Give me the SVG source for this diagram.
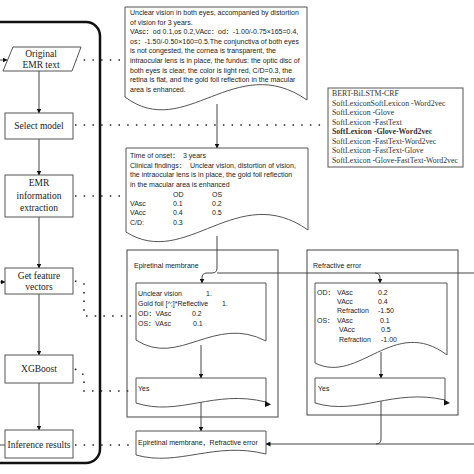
<svg xmlns="http://www.w3.org/2000/svg" width="474" height="474" viewBox="0 0 474 474">
<defs>
<marker id="ah" viewBox="0 0 10 10" refX="9" refY="5" markerWidth="5" markerHeight="5" orient="auto" markerUnits="userSpaceOnUse"><path d="M0,0 L10,5 L0,10 Z" fill="#111"/></marker>
<style>
.frame{fill:none;stroke:#444;stroke-width:1}
.box{fill:#fff;stroke:#555;stroke-width:1}
.doc{fill:#fff;stroke:#555;stroke-width:1}
.ln{fill:none;stroke:#444;stroke-width:1}
.dot{fill:none;stroke:#222;stroke-width:1.6;stroke-dasharray:1.5 7.2}
.tm{font-family:"Liberation Serif","Times New Roman",serif;font-size:9.5px;fill:#222}
.lx{font-family:"Liberation Serif","Times New Roman",serif;font-size:7.8px;fill:#333}
.sf{font-family:"Liberation Sans",Arial,"Noto Sans CJK SC",sans-serif;font-size:7px;fill:#222}
</style>
</defs>
<rect width="474" height="474" fill="#fff"/>

<!-- outer rounded frame -->
<rect x="-30" y="22" width="130" height="441" rx="14" fill="none" stroke="#111" stroke-width="2.5"/>

<g id="connectors">
<path class="ln" d="M39,71 V113" marker-end="url(#ah)"/>
<path class="ln" d="M39,139 V175" marker-end="url(#ah)"/>
<path class="ln" d="M39,217 V268" marker-end="url(#ah)"/>
<path class="ln" d="M39,294 V355" marker-end="url(#ah)"/>
<path class="ln" d="M39,383 V430" marker-end="url(#ah)"/>
<path class="ln" d="M0,60 H7" marker-end="url(#ah)"/>
<path class="ln" d="M0,282 H5" marker-end="url(#ah)"/>
<path class="ln" d="M0,445 H5"/>
<path class="ln" d="M217,104 V148" marker-end="url(#ah)"/>
<path class="ln" d="M217,236 V268 Q217,273 212,273 H207 Q202,273 202,278 V283" marker-end="url(#ah)"/>
<path class="ln" d="M217,273 H474"/>
<path class="ln" d="M375,273 Q380,273 380,278 V283" marker-end="url(#ah)"/>
<path class="ln" d="M201,345 V378" marker-end="url(#ah)"/>
<path class="ln" d="M201,402 V431" marker-end="url(#ah)"/>
<path class="ln" d="M381,352 V378" marker-end="url(#ah)"/>
<path class="ln" d="M381,401 V439 Q381,444 376,444"/>
<path class="ln" d="M474,444 H266" marker-end="url(#ah)"/>
<path class="dot" d="M75,60 H124"/>
<path class="dot" d="M75,125 H327"/>
<path class="dot" d="M75,196 H125"/>
<path class="dot" d="M75,281 L84,284 V316 H135"/>
<path class="dot" d="M75,369 L84,375 V391 H135"/>
<path class="dot" d="M75,445 H135"/>
</g>

<g id="n-original">
<path class="box" d="M13,47 H81 L72,71 H3 Z"/>
<text class="tm" x="41" y="56.5" text-anchor="middle">Original</text>
<text class="tm" x="41" y="68" text-anchor="middle">EMR text</text>
</g>
<g id="n-select">
<rect class="box" x="5" y="113" width="68" height="26"/>
<text class="tm" x="39" y="129" text-anchor="middle">Select model</text>
</g>
<g id="n-emr">
<rect class="box" x="5" y="175" width="68" height="42"/>
<text class="tm" x="39" y="186" text-anchor="middle">EMR</text>
<text class="tm" x="39" y="199" text-anchor="middle">information</text>
<text class="tm" x="39" y="211" text-anchor="middle">extraction</text>
</g>
<g id="n-feature">
<rect class="box" x="5" y="268" width="68" height="26"/>
<text class="tm" x="39" y="279" text-anchor="middle">Get feature</text>
<text class="tm" x="39" y="290" text-anchor="middle">vectors</text>
</g>
<g id="n-xgb">
<rect class="box" x="5" y="355" width="68" height="28"/>
<text class="tm" x="39" y="372" text-anchor="middle">XGBoost</text>
</g>
<g id="n-inference">
<rect class="box" x="5" y="430" width="68" height="28"/>
<text class="tm" x="39" y="447.5" text-anchor="middle">Inference results</text>
</g>

<g id="n-emrtext">
<path class="doc" d="M125,97 V7 H307 V100 C235,50 185,142 125,97 Z"/>
<text class="sf" x="130" y="15">Unclear vision in both eyes, accompanied by distortion</text>
<text class="sf" x="130" y="24.6">of vision for 3 years.</text>
<text class="sf" x="130" y="34.2">VAsc：od 0.1,os 0.2,VAcc：od：-1.00/-0.75×165=0.4,</text>
<text class="sf" x="130" y="43.8">os：-1.50/-0.50×160=0.5.The conjunctiva of both eyes</text>
<text class="sf" x="130" y="53.4">is not congested, the cornea is transparent, the</text>
<text class="sf" x="130" y="63">intraocular lens is in place, the fundus: the optic disc of</text>
<text class="sf" x="130" y="72.6">both eyes is clear, the color is light red, C/D=0.3, the</text>
<text class="sf" x="130" y="82.2">retina is flat, and the gold foil reflection in the macular</text>
<text class="sf" x="130" y="91.8">area is enhanced.</text>
</g>

<g id="n-models">
<rect class="box" x="328" y="88" width="135" height="79" stroke="#666"/>
<text class="lx" x="332" y="96">BERT-BiLSTM-CRF</text>
<text class="lx" x="332" y="105.5">SoftLexiconSoftLexicon -Word2vec</text>
<text class="lx" x="332" y="115">SoftLexicon -Glove</text>
<text class="lx" x="332" y="124.5">SoftLexicon -FastText</text>
<text class="lx" x="332" y="134" font-weight="bold" fill="#111">SoftLexicon -Glove-Word2vec</text>
<text class="lx" x="332" y="143.5">SoftLexicon -FastText-Word2vec</text>
<text class="lx" x="332" y="153">SoftLexicon -FastText-Glove</text>
<text class="lx" x="332" y="162.5">SoftLexicon -Glove-FastText-Word2vec</text>
</g>

<g id="n-extracted">
<path class="doc" d="M126,232 V148 H308 V230 C237,180 186,270 126,232 Z"/>
<text class="sf" x="130" y="158">Time of onset：<tspan x="183">3 years</tspan></text>
<text class="sf" x="130" y="167.5">Clinical findings：<tspan x="190">Unclear vision, distortion of vision,</tspan></text>
<text class="sf" x="130" y="177">the intraocular lens is in place, the gold foil reflection</text>
<text class="sf" x="130" y="186.5">in the macular area is enhanced</text>
<text class="sf" x="173" y="196.5">OD</text>
<text class="sf" x="212" y="196.5">OS</text>
<text class="sf" x="130" y="205.5">VAsc</text>
<text class="sf" x="173" y="205.5">0.1</text>
<text class="sf" x="212" y="205.5">0.2</text>
<text class="sf" x="130" y="214.5">VAcc</text>
<text class="sf" x="173" y="214.5">0.4</text>
<text class="sf" x="212" y="214.5">0.5</text>
<text class="sf" x="130" y="224.5">C/D:</text>
<text class="sf" x="173" y="224.5">0.3</text>
</g>

<g id="n-erm">
<rect class="frame" x="127" y="250" width="151" height="167"/>
<text class="sf" x="134" y="267.5">Epiretinal membrane</text>
</g>
<g id="n-erm-features">
<path class="doc" d="M136,340 V283 H266 V341 C214,314 179,368 136,340 Z"/>
<text class="sf" x="138" y="295.5">Unclear vision</text>
<text class="sf" x="206" y="295.5">1.</text>
<text class="sf" x="138" y="305.5">Gold foil [^;]*Reflective</text>
<text class="sf" x="222" y="305.5">1.</text>
<text class="sf" x="138" y="315.5">OD：VAsc</text>
<text class="sf" x="192" y="315.5">0.2</text>
<text class="sf" x="138" y="325.5">OS：VAsc</text>
<text class="sf" x="193" y="325.5">0.1</text>
</g>
<g id="n-erm-yes">
<path class="doc" d="M136,403 V378 H266 V402 C214,389 179,417 136,403 Z"/>
<path d="M265,401 L271,404.5 L265,407 Z" fill="#111"/>
<text class="sf" x="138" y="390.5">Yes</text>
</g>

<g id="n-re">
<rect class="frame" x="307" y="250" width="151" height="165"/>
<text class="sf" x="313" y="267.5">Refractive error</text>
</g>
<g id="n-re-features">
<path class="doc" d="M315,363 V283 H447 V355 C394,315 359,385 315,363 Z"/>
<text class="sf" x="317" y="294.5">OD：</text>
<text class="sf" x="337" y="294.5">VAsc</text>
<text class="sf" x="378" y="294.5">0.2</text>
<text class="sf" x="337" y="303.5">VAcc</text>
<text class="sf" x="378" y="303.5">0.4</text>
<text class="sf" x="337" y="312.5">Refraction</text>
<text class="sf" x="378" y="312.5">-1.50</text>
<text class="sf" x="317" y="322.5">OS：</text>
<text class="sf" x="337" y="322.5">VAsc</text>
<text class="sf" x="380" y="322.5">0.1</text>
<text class="sf" x="339" y="331.5">VAcc</text>
<text class="sf" x="381" y="331.5">0.5</text>
<text class="sf" x="339" y="341.5">Refraction</text>
<text class="sf" x="381" y="341.5">-1.00</text>
</g>
<g id="n-re-yes">
<path class="doc" d="M315,403 V378 H445 V400 C393,388 358,416 315,403 Z"/>
<path d="M444,399.5 L450,403 L444,405.5 Z" fill="#111"/>
<text class="sf" x="318" y="390.5">Yes</text>
</g>

<g id="n-result">
<path class="doc" d="M136,455 V431 H266 V454 C214,441 179,467 136,455 Z"/>
<text class="sf" x="138" y="444.5">Epiretinal membrane，Refractive error</text>
</g>
</svg>
